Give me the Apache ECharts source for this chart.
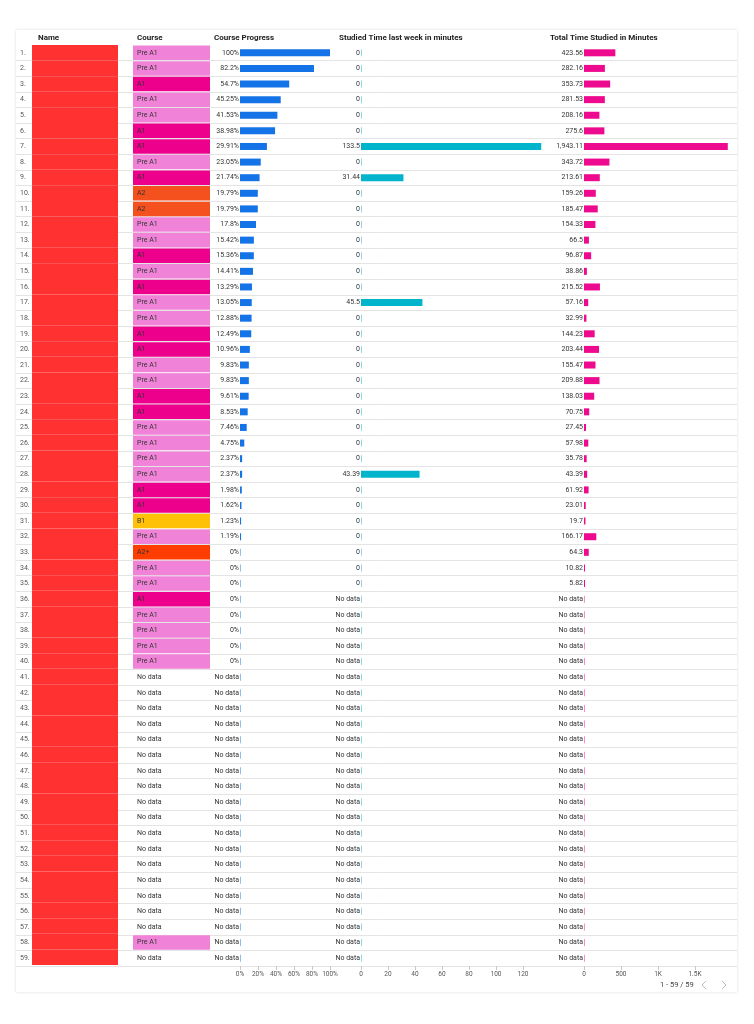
<!DOCTYPE html>
<html>
<head>
<meta charset="utf-8">
<script src="https://cdn.jsdelivr.net/npm/echarts@6/dist/echarts.min.js"></script>
<style>
    html, body { margin: 0; padding: 0; background: #fff; }
    #wrap { position: relative; width: 754px; height: 1024px; }
    #card { position: absolute; left: 16px; top: 30px; width: 721px; height: 962px; background: #fff; box-shadow: 0 0 3px rgba(0,0,0,0.14); }
    #main { position: absolute; left: 0; top: 0; width: 754px; height: 1024px; }
</style>
</head>
<body>
<div id="wrap">
    <div id="card"></div>
    <div id="main"></div>
</div>
<script>
    // row numbers (categories)
    var rowIds = [1, 2, 3, 4, 5, 6, 7, 8, 9, 10, 11, 12, 13, 14, 15, 16, 17, 18, 19, 20,
        21, 22, 23, 24, 25, 26, 27, 28, 29, 30, 31, 32, 33, 34, 35, 36, 37, 38, 39, 40,
        41, 42, 43, 44, 45, 46, 47, 48, 49, 50, 51, 52, 53, 54, 55, 56, 57, 58, 59];

    var courses = ['Pre A1', 'Pre A1', 'A1', 'Pre A1', 'Pre A1', 'A1', 'A1', 'Pre A1', 'A1', 'A2',
        'A2', 'Pre A1', 'Pre A1', 'A1', 'Pre A1', 'A1', 'Pre A1', 'Pre A1', 'A1', 'A1',
        'Pre A1', 'Pre A1', 'A1', 'A1', 'Pre A1', 'Pre A1', 'Pre A1', 'Pre A1', 'A1', 'A1',
        'B1', 'Pre A1', 'A2+', 'Pre A1', 'Pre A1', 'A1', 'Pre A1', 'Pre A1', 'Pre A1', 'Pre A1',
        null, null, null, null, null, null, null, null, null, null,
        null, null, null, null, null, null, null, 'Pre A1', null];

    // course progress in %
    var progress = [100, 82.2, 54.7, 45.25, 41.53, 38.98, 29.91, 23.05, 21.74, 19.79,
        19.79, 17.8, 15.42, 15.36, 14.41, 13.29, 13.05, 12.88, 12.49, 10.96,
        9.83, 9.83, 9.61, 8.53, 7.46, 4.75, 2.37, 2.37, 1.98, 1.62,
        1.23, 1.19, 0, 0, 0, 0, 0, 0, 0, 0,
        null, null, null, null, null, null, null, null, null, null,
        null, null, null, null, null, null, null, null, null];

    // studied time last week (minutes)
    var lastWeek = [0, 0, 0, 0, 0, 0, 133.5, 0, 31.44, 0,
        0, 0, 0, 0, 0, 0, 45.5, 0, 0, 0,
        0, 0, 0, 0, 0, 0, 0, 43.39, 0, 0,
        0, 0, 0, 0, 0, null, null, null, null, null,
        null, null, null, null, null, null, null, null, null, null,
        null, null, null, null, null, null, null, null, null];

    // total time studied (minutes)
    var totalTime = [423.56, 282.16, 353.73, 281.53, 208.16, 275.6, 1943.11, 343.72, 213.61, 159.26,
        185.47, 154.33, 66.5, 96.87, 38.86, 215.52, 57.16, 32.99, 144.23, 203.44,
        155.47, 209.88, 138.03, 70.75, 27.45, 57.98, 35.78, 43.39, 61.92, 23.01,
        19.7, 166.17, 64.3, 10.82, 5.82, null, null, null, null, null,
        null, null, null, null, null, null, null, null, null, null,
        null, null, null, null, null, null, null, null, null];

    var progressTicks = [0, 20, 40, 60, 80, 100];
    var lastWeekTicks = [0, 20, 40, 60, 80, 100, 120];
    var totalTicks = [0, 500, 1000, 1500];

    var courseColors = {
        'Pre A1': '#f083d8',
        'A1': '#ec008c',
        'A2': '#f4511e',
        'A2+': '#ff3d00',
        'B1': '#ffc107'
    };

    var FONT = 'Roboto, sans-serif';
    var TOP = 45, HEIGHT = 921;

    function fmtNum(v) {
        return v.toLocaleString('en-US', {maximumFractionDigits: 2});
    }

    function maxOf(arr) {
        return Math.max.apply(null, arr.filter(function (v) { return v !== null; }));
    }

    function barData(arr, color, faded) {
        return arr.map(function (v) {
            if (v === null) return {value: 0, itemStyle: {color: faded}};
            return {value: v, itemStyle: {color: v === 0 ? faded : color}};
        });
    }

    function valueLabel(arr, fmt) {
        return {
            show: true,
            position: 'left',
            distance: 1,
            fontSize: 7,
            fontFamily: FONT,
            color: '#333',
            formatter: function (p) {
                var v = arr[p.dataIndex];
                return v === null ? 'No data' : fmt(v);
            }
        };
    }

    function hiddenY(i) {
        return {type: 'category', gridIndex: i, data: rowIds, inverse: true, show: false};
    }

    function valueX(i, max, ticks, fmt) {
        return {
            type: 'value', gridIndex: i, min: 0, max: max,
            axisLine: {show: false},
            splitLine: {show: false},
            axisTick: {show: true, length: 4, customValues: ticks, lineStyle: {color: '#c8c8c8'}},
            axisLabel: {
                show: true, margin: 5, fontSize: 6.5, fontFamily: FONT, color: '#555',
                customValues: ticks, formatter: fmt
            }
        };
    }

    var chart = echarts.init(document.getElementById('main'));

    var headStyle = {fontSize: 8, fontWeight: 'bold', color: '#222', fontFamily: FONT};

    var option = {
        backgroundColor: 'transparent',
        animation: false,
        title: [
            {text: 'Name', left: 38, top: 34, padding: 0, textStyle: headStyle},
            {text: 'Course', left: 137, top: 34, padding: 0, textStyle: headStyle},
            {text: 'Course Progress', left: 214, top: 34, padding: 0, textStyle: headStyle},
            {text: 'Studied Time last week in minutes', left: 339, top: 34, padding: 0, textStyle: headStyle},
            {text: 'Total Time Studied in Minutes', left: 550, top: 34, padding: 0, textStyle: headStyle}
        ],
        grid: [
            {left: 16, width: 721, top: TOP, height: HEIGHT},
            {left: 32, width: 86, top: TOP, height: HEIGHT - 1},
            {left: 133, width: 77, top: TOP, height: HEIGHT},
            {left: 240, width: 90, top: TOP, height: HEIGHT},
            {left: 361, width: maxOf(lastWeek) * 1.35, top: TOP, height: HEIGHT},
            {left: 584, width: maxOf(totalTime) * 0.074, top: TOP, height: HEIGHT}
        ],
        xAxis: [
            {type: 'value', gridIndex: 0, min: 0, max: 1, show: false},
            {type: 'value', gridIndex: 1, min: 0, max: 1, show: false},
            {type: 'value', gridIndex: 2, min: 0, max: 1, show: false},
            valueX(3, maxOf(progress), progressTicks, '{value}%'),
            valueX(4, maxOf(lastWeek), lastWeekTicks, '{value}'),
            valueX(5, maxOf(totalTime), totalTicks, function (v) {
                return v >= 1000 ? (v / 1000) + 'K' : String(v);
            })
        ],
        yAxis: [
            {
                type: 'category', gridIndex: 0, data: rowIds, inverse: true,
                axisLine: {show: false},
                axisTick: {show: false},
                axisLabel: {
                    inside: true, margin: 4, interval: 0, fontSize: 7, fontFamily: FONT, color: '#555',
                    formatter: function (v) { return v + '.'; }
                },
                splitLine: {show: true, interval: 0, showMinLine: false, lineStyle: {color: '#e4e4e4', width: 1}}
            },
            hiddenY(1), hiddenY(2), hiddenY(3), hiddenY(4), hiddenY(5)
        ],
        series: [
            {
                // redacted name column
                type: 'bar', xAxisIndex: 1, yAxisIndex: 1, silent: true,
                barCategoryGap: '0%',
                itemStyle: {color: '#ff3131'},
                data: rowIds.map(function () { return 1; })
            },
            {
                type: 'bar', xAxisIndex: 2, yAxisIndex: 2, silent: true,
                barCategoryGap: '7%',
                data: courses.map(function (c) {
                    return {value: 1, itemStyle: {color: c ? courseColors[c] : 'rgba(0,0,0,0)'}};
                }),
                label: {
                    show: true, position: 'insideLeft', distance: 4,
                    fontSize: 7, fontFamily: FONT, color: '#333',
                    formatter: function (p) {
                        return courses[p.dataIndex] || 'No data';
                    }
                }
            },
            {
                type: 'bar', xAxisIndex: 3, yAxisIndex: 3, silent: true,
                barWidth: 7, barMinHeight: 1,
                data: barData(progress, '#1473e6', '#8dbdf3'),
                label: valueLabel(progress, function (v) { return v + '%'; })
            },
            {
                type: 'bar', xAxisIndex: 4, yAxisIndex: 4, silent: true,
                barWidth: 7, barMinHeight: 1,
                data: barData(lastWeek, '#00b4cb', '#8ad9e3'),
                label: valueLabel(lastWeek, fmtNum)
            },
            {
                type: 'bar', xAxisIndex: 5, yAxisIndex: 5, silent: true,
                barWidth: 7, barMinHeight: 1,
                data: barData(totalTime, '#ee0a8f', '#f68cc8'),
                label: valueLabel(totalTime, fmtNum)
            }
        ],
        graphic: [
            {type: 'text', x: 660, y: 981, style: {text: '1 - 59 / 59', fill: '#444', font: '7.5px Roboto'}},
            {type: 'polyline', shape: {points: [[706, 981], [702, 985], [706, 989]]}, style: {stroke: '#bbb', lineWidth: 1, fill: null}},
            {type: 'polyline', shape: {points: [[722, 981], [726, 985], [722, 989]]}, style: {stroke: '#bbb', lineWidth: 1, fill: null}}
        ]
    };

    chart.setOption(option);
</script>
</body>
</html>
